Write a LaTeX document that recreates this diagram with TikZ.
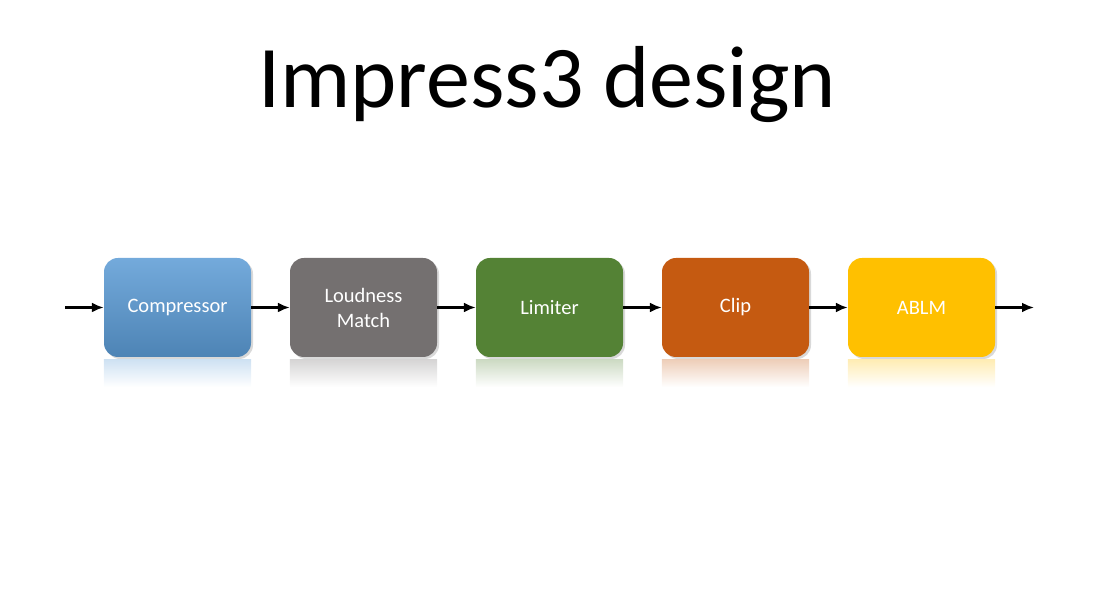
\documentclass[tikz,border=0pt]{standalone}
\usepackage{fontspec}
\setmainfont{Carlito}
\usepackage{tikz}
\usetikzlibrary{arrows.meta,positioning,shadows}

\definecolor{compblue}{HTML}{5B9BD5}
\definecolor{loudgray}{HTML}{747070}
\definecolor{limgreen}{HTML}{548235}
\definecolor{cliporange}{HTML}{C55A11}
\definecolor{ablmyellow}{HTML}{FFC000}

\tikzset{
  block/.style={rounded corners=14pt,minimum width=147pt,minimum height=99pt,
    text=white,font=\fontsize{20.5}{25}\selectfont,align=center,
    drop shadow={opacity=0.3,shadow xshift=2pt,shadow yshift=-2pt}},
  flow/.style={-{Latex[length=12pt,width=10pt]},line width=2.8pt}
}

\begin{document}
\begin{tikzpicture}[x=1pt,y=1pt,node distance = 186pt]
\useasboundingbox (0,0) rectangle (1093,615);
\node[anchor=base,font=\fontsize{88}{100}\selectfont] (title) at (547,507) {Impress3 design};

\node[block,top color=compblue!85!white,bottom color=compblue!85!black] (comp) at (177.5,307.5) {Compressor};
\node[block,fill=loudgray] (loud) [right of = comp] {Loudness\\Match};
\node[block,fill=limgreen] (lim) [right of = loud] {Limiter};
\node[block,fill=cliporange] (clip) [right of = lim] {Clip};
\node[block,fill=ablmyellow] (ablm) [right of = clip] {ABLM};

% reflections
\foreach \b/\c in {comp/compblue,loud/loudgray,lim/limgreen,clip/cliporange,ablm/ablmyellow}{
  \shade[top color=\c!30!white,bottom color=white] ([yshift=-2pt]\b.south west) rectangle ([yshift=-30pt]\b.south east);
}

\coordinate (in) at (65,307.5);
\coordinate (out) at (1034,307.5);

\path (in) edge [flow] (comp);
\path (comp) edge [flow] (loud);
\path (loud) edge [flow] (lim);
\path (lim) edge [flow] (clip);
\path (clip) edge [flow] (ablm);
\path (ablm) edge [flow] (out);

\end{tikzpicture}
\end{document}
